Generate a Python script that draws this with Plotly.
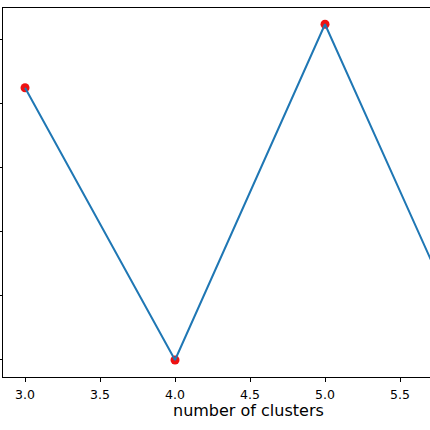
import plotly.graph_objects as go

# number of clusters vs score (y tick labels are cut off in the reference)
n_clusters = [3, 4, 5, 6]
scores = [0.3424, 0.3000, 0.3523, 0.3003]

tick_vals = [0.30, 0.31, 0.32, 0.33, 0.34, 0.35]
x_ticks = [3.0, 3.5, 4.0, 4.5, 5.0, 5.5]

fig = go.Figure()
# red dots first, the line is drawn over them
fig.add_trace(go.Scatter(
    x=n_clusters, y=scores, mode='markers',
    marker=dict(color='#ee1111', size=9),
    showlegend=False, hoverinfo='skip'
))
fig.add_trace(go.Scatter(
    x=n_clusters, y=scores, mode='lines',
    line=dict(color='#1f77b4', width=2),
    showlegend=False
))

fig.update_layout(
    width=430, height=430,
    margin=dict(l=3, r=0, t=8, b=53),
    plot_bgcolor='white', paper_bgcolor='white',
    font=dict(family='DejaVu Sans', color='black', size=12),
    xaxis=dict(
        range=[2.853, 5.7],
        tickvals=x_ticks, ticktext=['%.1f' % v for v in x_ticks],
        ticks='outside', ticklen=4, tickwidth=1, tickcolor='black',
        ticklabelstandoff=2,
        showline=True, linecolor='black', linewidth=1, mirror=True,
        showgrid=False, zeroline=False,
        tickfont=dict(size=12.5),
    ),
    yaxis=dict(
        range=[0.29735, 0.35483],
        tickvals=tick_vals, showticklabels=False,
        ticks='outside', ticklen=4, tickwidth=1, tickcolor='black',
        showline=True, linecolor='black', linewidth=1, mirror=False,
        showgrid=False, zeroline=False,
    ),
)

# the original axes run past the right edge, so the label sits right of centre
fig.add_annotation(
    text='number of clusters', xref='paper', yref='paper',
    x=0.576, y=-0.092, xanchor='center', yanchor='middle',
    showarrow=False, font=dict(size=16)
)

fig.write_html("out.html", config={'displayModeBar': False},
               post_script="document.body.style.margin='0';")
